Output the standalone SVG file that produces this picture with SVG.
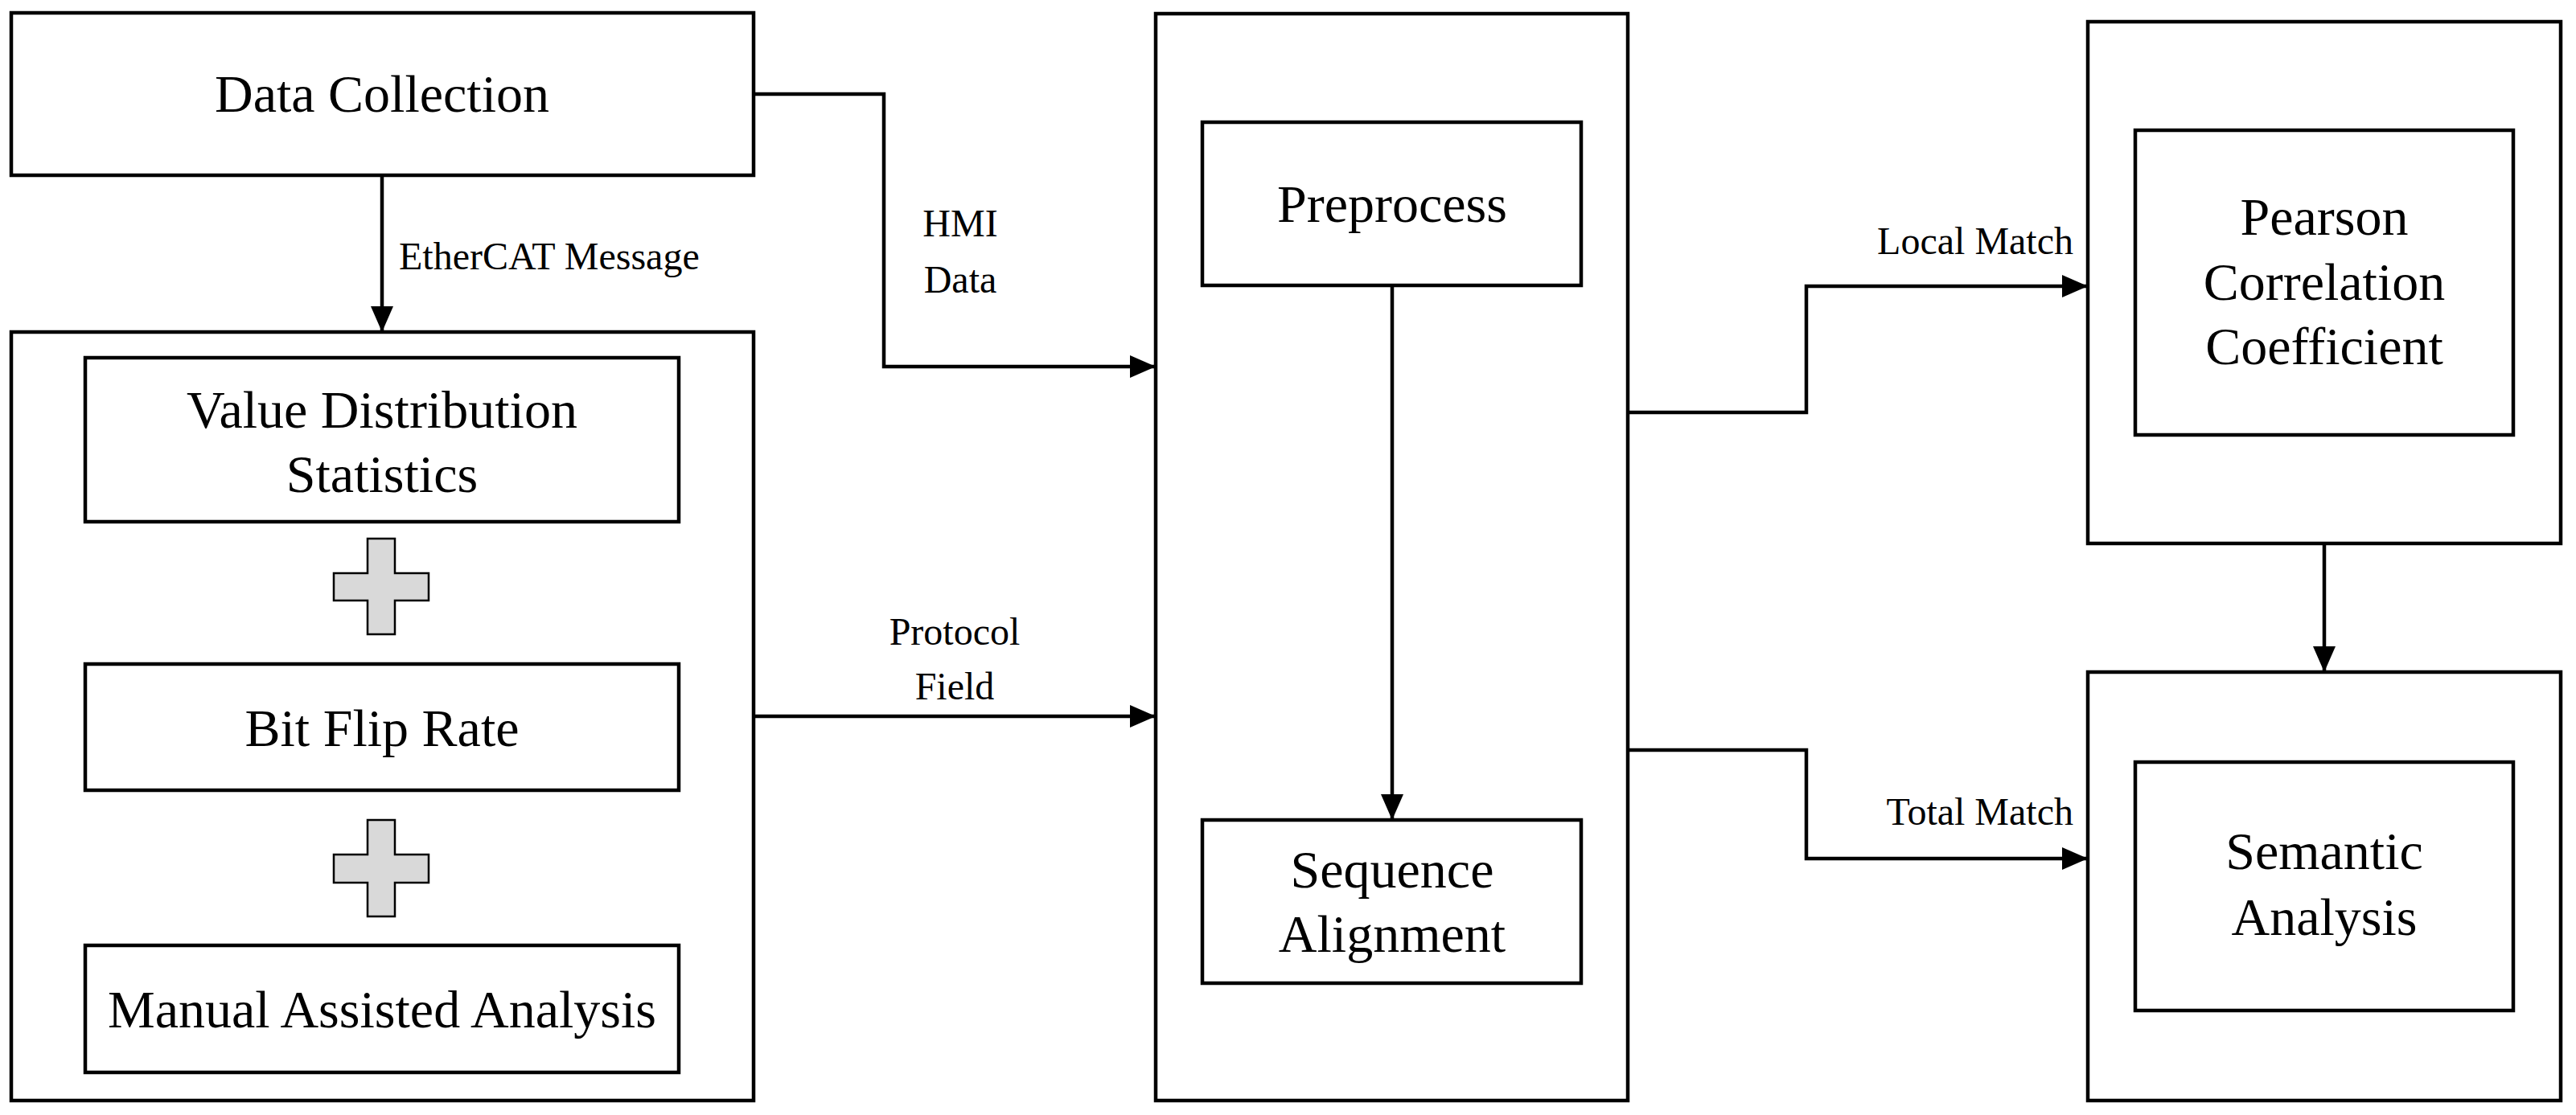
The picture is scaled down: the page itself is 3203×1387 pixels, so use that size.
<svg xmlns="http://www.w3.org/2000/svg" width="3203" height="1387" viewBox="0 0 3203 1387">
<style>
.b{fill:#fff;stroke:#000;stroke-width:4.5}
.t{font-family:"Liberation Serif",serif;font-size:66px;text-anchor:middle;fill:#000}
.l{font-family:"Liberation Serif",serif;font-size:48px;text-anchor:middle;fill:#000}
.c{fill:none;stroke:#000;stroke-width:4.5}
.p{fill:#d9d9d9;stroke:#000;stroke-width:2.5}
</style>
<defs><marker id="a" markerUnits="userSpaceOnUse" markerWidth="32" markerHeight="28" refX="30" refY="14" orient="auto"><path d="M0,0 L32,14 L0,28 Z" fill="#000"/></marker></defs>
<rect width="3203" height="1387" fill="#fff"/>
<g id="data-collection"><rect class="b" x="14" y="16" width="923" height="202"/><text class="t" x="475" y="139">Data Collection</text></g>
<g id="analysis-group"><rect class="b" x="14" y="413" width="923" height="956"/></g>
<g id="value-dist"><rect class="b" x="106" y="445" width="738" height="204"/><text class="t" x="475" y="532">Value Distribution</text><text class="t" x="475" y="612">Statistics</text></g>
<g id="plus1"><path class="p" d="M457,670 H491 V713 H533 V747 H491 V789 H457 V747 H415 V713 H457 Z"/></g>
<g id="bit-flip"><rect class="b" x="106" y="826" width="738" height="157"/><text class="t" x="475" y="928">Bit Flip Rate</text></g>
<g id="plus2"><path class="p" d="M457,1020 H491 V1063 H533 V1098 H491 V1140 H457 V1098 H415 V1063 H457 Z"/></g>
<g id="manual"><rect class="b" x="106" y="1176" width="738" height="158"/><text class="t" x="475" y="1278">Manual Assisted Analysis</text></g>
<g id="middle"><rect class="b" x="1437" y="17" width="587" height="1352"/></g>
<g id="preprocess"><rect class="b" x="1495" y="152" width="471" height="203"/><text class="t" x="1731" y="276">Preprocess</text></g>
<g id="sequence"><rect class="b" x="1495" y="1020" width="471" height="203"/><text class="t" x="1731" y="1104">Sequence</text><text class="t" x="1731" y="1184">Alignment</text></g>
<g id="pearson-outer"><rect class="b" x="2596" y="27" width="588" height="649"/></g>
<g id="pearson"><rect class="b" x="2655" y="162" width="470" height="379"/><text class="t" x="2890" y="292">Pearson</text><text class="t" x="2890" y="373">Correlation</text><text class="t" x="2890" y="453">Coefficient</text></g>
<g id="semantic-outer"><rect class="b" x="2596" y="836" width="588" height="533"/></g>
<g id="semantic"><rect class="b" x="2655" y="948" width="470" height="309"/><text class="t" x="2890" y="1081">Semantic</text><text class="t" x="2890" y="1163">Analysis</text></g>
<g id="connectors">
<path class="c" d="M475,218 V411" marker-end="url(#a)"/>
<path class="c" d="M937,117 H1099 V456 H1435" marker-end="url(#a)"/>
<path class="c" d="M937,891 H1435" marker-end="url(#a)"/>
<path class="c" d="M1731,355 V1018" marker-end="url(#a)"/>
<path class="c" d="M2024,513 H2246 V356 H2594" marker-end="url(#a)"/>
<path class="c" d="M2024,933 H2246 V1068 H2594" marker-end="url(#a)"/>
<path class="c" d="M2890,676 V834" marker-end="url(#a)"/>
<text class="l" x="496" y="335" text-anchor="start" style="text-anchor:start">EtherCAT Message</text>
<text class="l" x="1194" y="294">HMI</text><text class="l" x="1194" y="364">Data</text>
<text class="l" x="1187" y="802">Protocol</text><text class="l" x="1187" y="870">Field</text>
<text class="l" x="2578" y="316" style="text-anchor:end">Local Match</text>
<text class="l" x="2578" y="1026" style="text-anchor:end">Total Match</text>
</g>
</svg>
